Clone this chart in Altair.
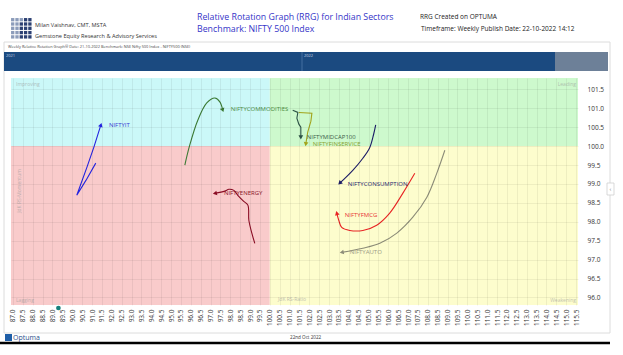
import math
import altair as alt
import pandas as pd

FONT = "Open Sans"

# ---------------- data ----------------
names = ["NIFTYIT", "NIFTYCOMMODITIES", "NIFTYMIDCAP100", "NIFTYFINSERVICE",
         "NIFTYCONSUMPTION", "NIFTYFMCG", "NIFTYAUTO", "NIFTYENERGY"]

it_x = [91.19, 90.70, 90.23, 90.75, 91.10, 91.45]
it_y = [99.55, 99.10, 98.70, 99.45, 99.98, 100.56]

com_x = [95.70, 95.95, 96.36, 96.81, 97.22, 97.47, 97.62]
com_y = [99.50, 100.03, 100.69, 101.14, 101.27, 101.17, 100.95]

mid_x = [101.16, 101.42, 101.37, 101.47, 101.57, 101.57]
mid_y = [100.95, 100.89, 100.74, 100.58, 100.50, 100.23]

fin_x = [101.47, 102.13, 102.08, 101.92, 101.82]
fin_y = [100.89, 100.87, 100.66, 100.37, 100.05]

con_x = [105.36, 105.25, 105.05, 104.71, 104.20, 103.54]
con_y = [100.56, 100.30, 99.95, 99.68, 99.36, 99.02]

fmcg_x = [107.34, 106.73, 106.07, 105.41, 104.71, 104.05, 103.64, 103.49, 103.39]
fmcg_y = [99.28, 98.75, 98.23, 97.91, 97.77, 97.77, 97.85, 98.04, 98.23]

auto_x = [108.86, 108.45, 107.95, 107.24, 106.43, 105.57, 104.71, 103.64]
auto_y = [99.89, 99.28, 98.65, 98.12, 97.70, 97.43, 97.30, 97.19]

en_x = [99.24, 99.09, 98.94, 98.89, 98.68, 98.38, 98.18, 97.93, 97.72, 97.22]
en_y = [97.43, 97.70, 98.04, 98.44, 98.54, 98.70, 98.83, 98.86, 98.81, 98.75]

series_x = [it_x, com_x, mid_x, fin_x, con_x, fmcg_x, auto_x, en_x]
series_y = [it_y, com_y, mid_y, fin_y, con_y, fmcg_y, auto_y, en_y]

x_ticks = [87.0 + 0.5 * i for i in range(58)]
y_ticks = [96.0 + 0.5 * i for i in range(12)]

# ---------------- style ----------------
line_colors = ["#2424e0", "#3c7a34", "#2c5246", "#a2a41c",
               "#1c1c66", "#e82424", "#8c8c78", "#8a0c24"]
label_colors = ["#3a3ad4", "#4a8c40", "#3c5c48", "#8aa22c",
                "#26266e", "#e83434", "#9c9c86", "#8a1428"]
smooth = {"NIFTYCOMMODITIES", "NIFTYCONSUMPTION", "NIFTYFMCG", "NIFTYAUTO", "NIFTYENERGY"}
label_off = {  # dx, dy in pixels from arrow tip
    "NIFTYIT": (8, 0), "NIFTYCOMMODITIES": (8, -1), "NIFTYMIDCAP100": (6, 0),
    "NIFTYFINSERVICE": (7, 0), "NIFTYCONSUMPTION": (8, 1), "NIFTYFMCG": (8, 2),
    "NIFTYAUTO": (8, 0), "NIFTYENERGY": (9, 0),
}

PL, PT, PR, PB = 11, 78, 45, 50
W, H = 623 - PL - PR, 355 - PT - PB
XD = [86.9, 115.6]
YD = [95.8, 101.8]
SX = W / (XD[1] - XD[0])
SY = H / (YD[1] - YD[0])

rows, heads = [], []
for n, xs, ys in zip(names, series_x, series_y):
    k = len(xs)
    for i in range(k):
        rows.append({"name": n, "i": i, "x": xs[i], "y": ys[i]})
    dxp = (xs[-1] - xs[-2]) * SX
    dyp = -(ys[-1] - ys[-2]) * SY
    ang = math.degrees(math.atan2(dxp, -dyp)) % 360
    heads.append({"name": n, "x": xs[-1], "y": ys[-1], "ang": ang})
df = pd.DataFrame(rows)
hd = pd.DataFrame(heads)

xscale = alt.Scale(domain=XD, nice=False, zero=False)
yscale = alt.Scale(domain=YD, nice=False, zero=False)
cscale = alt.Scale(domain=names, range=line_colors)

xaxis = alt.Axis(values=x_ticks, format=".1f", labelAngle=270, ticks=False, domain=False,
                 labelPadding=4, labelFontSize=6.5, labelColor="#333333", labelFont=FONT,
                 grid=True, gridColor="#000000", gridOpacity=0.06, title=None, zindex=1,
                 labelOverlap=False, labelFlush=False)
yaxis = alt.Axis(values=y_ticks, format=".1f", orient="right", ticks=False, domain=False,
                 labelPadding=9, labelFontSize=6.5, labelColor="#333333", labelFont=FONT,
                 grid=True, gridColor="#000000", gridOpacity=0.06, title=None, zindex=1,
                 labelOverlap=False, labelFlush=False)


def X(f="x:Q"):
    return alt.X(f, scale=xscale, axis=xaxis)


def Y(f="y:Q"):
    return alt.Y(f, scale=yscale, axis=yaxis)


quad = pd.DataFrame({
    "x": [XD[0], 100, XD[0], 100], "x2": [100, XD[1], 100, XD[1]],
    "y": [100, 100, YD[0], YD[0]], "y2": [YD[1], YD[1], 100, 100],
    "c": ["#cbf8f8", "#cdf9cd", "#f9cbcb", "#fdfdcd"],
})
quads = alt.Chart(quad).mark_rect().encode(
    x=X(), x2="x2", y=Y(), y2="y2",
    color=alt.Color("c:N", scale=None),
)

lines = []
for n in names:
    interp = "catmull-rom" if n in smooth else "linear"
    lines.append(
        alt.Chart(df[df["name"] == n]).mark_line(interpolate=interp, strokeWidth=1.1).encode(
            x=X(), y=Y(), order="i:Q",
            color=alt.Color("name:N", scale=cscale, legend=None),
        )
    )

arrows = alt.Chart(hd).mark_point(shape="triangle-up", filled=True, size=22, opacity=1).encode(
    x=X(), y=Y(),
    color=alt.Color("name:N", scale=cscale, legend=None),
    angle=alt.Angle("ang:Q", scale=None),
)

labels = []
for n, c in zip(names, label_colors):
    dx, dy = label_off[n]
    labels.append(
        alt.Chart(hd[hd["name"] == n]).mark_text(
            align="left", baseline="middle", dx=dx, dy=dy, fontSize=6, font=FONT, color=c
        ).encode(x=X(), y=Y(), text="name:N")
    )

one = pd.DataFrame({"a": [0]})


def txt(s, x, y, size, color, align="left", angle=0, opacity=1.0, weight="normal"):
    return alt.Chart(one).mark_text(
        align=align, baseline="middle", fontSize=size, color=color, font=FONT,
        angle=angle, opacity=opacity, fontWeight=weight,
    ).encode(x=alt.value(x - PL), y=alt.value(y - PT), text=alt.value(s))


def box(x1, y1, x2, y2, fill, stroke=None, sw=1.0, fo=1.0):
    kw = dict(fill=fill, fillOpacity=fo)
    if stroke:
        kw.update(stroke=stroke, strokeWidth=sw)
    return alt.Chart(one).mark_rect(**kw).encode(
        x=alt.value(x1 - PL), x2=alt.value(x2 - PL),
        y=alt.value(y1 - PT), y2=alt.value(y2 - PT))


# logo squares
logo_rows = []
for r in range(5):
    for cidx in range(5):
        dark = (cidx >= 2 and r >= 1) or (cidx >= 3)
        logo_rows.append({"px": 11 + cidx * 4.3 - PL + 1.7, "py": 18 + r * 4.3 - PT + 1.7,
                          "col": "#2b3f72" if dark else "#8c9cba"})
logo = alt.Chart(pd.DataFrame(logo_rows)).mark_square(size=11, opacity=1).encode(
    x=alt.X("px:Q", scale=None), y=alt.Y("py:Q", scale=None),
    color=alt.Color("col:N", scale=None))

faint = "#9a9a9a"
deco = [
    box(4, 42, 610, 333, "#ffffff", stroke="#dcdcdc", sw=1, fo=0),
    box(4, 52, 555, 71, "#1b4a80"),
    box(555, 52, 608, 71, "#6d8098"),
    alt.Chart(one).mark_rule(color="#4f79a8", strokeWidth=0.8).encode(
        x=alt.value(302 - PL), y=alt.value(52 - PT), y2=alt.value(71 - PT)),
    txt("2021", 6, 56, 4, "#c8d4e4"),
    txt("2022", 304, 56, 4, "#c8d4e4"),
    logo,
    txt("Milan Vaishnav, CMT, MSTA", 35, 25, 5.6, "#333333"),
    txt("Gemstone Equity Research & Advisory Services", 35, 36, 5.6, "#333333"),
    txt("Relative Rotation Graph (RRG) for Indian Sectors", 197, 17, 8.8, "#3535c8"),
    txt("Benchmark: NIFTY 500 Index", 197, 29, 8.8, "#3535c8"),
    txt("RRG Created on OPTUMA", 420, 17, 6.5, "#222222"),
    txt("Timeframe: Weekly  Publish Date: 22-10-2022 14:12", 421, 29, 6.5, "#222222"),
    txt("Weekly Relative Rotation Graph\u00ae   Date: 21-10-2022   Benchmark: NSE Nifty 500 Index - NIFTY500 (NSE)",
        8, 47, 3.9, "#444444"),
    txt("Improving", 16, 84, 5, faint, opacity=0.6),
    txt("Leading", 576, 84, 5, faint, align="right", opacity=0.6),
    txt("Lagging", 16, 300, 5, faint, opacity=0.6),
    txt("Weakening", 576, 300, 5, faint, align="right", opacity=0.6),
    txt("JdK RS-Ratio", 278, 299, 5, faint, opacity=0.6),
    txt("JdK RS-Momentum", 19, 191, 5, faint, angle=270, align="center", opacity=0.6),
    alt.Chart(one).mark_point(filled=True, size=22, color="#17807c", opacity=1).encode(
        x=alt.X("v:Q", scale=xscale, axis=xaxis), y=alt.value(308 - PT)).transform_calculate(v="89.3"),
    box(607, 183, 614, 195, "#ffffff", stroke="#cfcfcf", sw=0.8),
    txt("\u2039", 610.5, 188.5, 6, "#777777", align="center"),
    box(5, 334, 12, 341, "#1f5fa8"),
    txt("Optuma", 13, 337.5, 7, "#1f4e8c"),
    txt("22nd Oct 2022", 290, 337.5, 4.6, "#333333"),
    alt.Chart(one).mark_rule(color="#000000", strokeWidth=2.5).encode(
        x=alt.value(0 - PL), x2=alt.value(610 - PL), y=alt.value(343 - PT)),
]

chart = alt.layer(quads, *lines, arrows, *labels, *deco).properties(
    width=W, height=H,
    autosize=alt.AutoSizeParams(type="none"),
    padding={"left": PL, "top": PT, "right": PR, "bottom": PB},
    background="#ffffff",
).configure_view(stroke=None)

chart.save("out.html", embed_options={"renderer": "svg", "actions": False})
